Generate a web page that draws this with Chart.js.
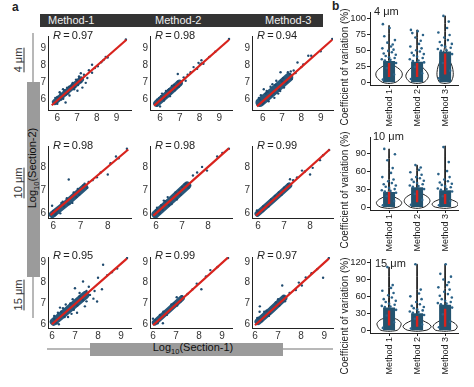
<!DOCTYPE html>
<html lang="en">
<head>
<meta charset="UTF-8">
<meta name="viewport" content="width=device-width, initial-scale=1.0">
<title>Section-1 vs Section-2</title>
<script src="https://cdn.jsdelivr.net/npm/chart.js@4.4.1/dist/chart.umd.min.js"></script>
<style>
  body { margin: 0; background: #fff; font-family: 'Liberation Sans', Arial, sans-serif; color: #222; }
  #fig { position: relative; width: 474px; height: 387px; overflow: hidden; }
  #fig canvas { position: absolute; }
  .t { position: absolute; white-space: nowrap; line-height: 1; }
  .rot { transform: translate(-50%, -50%) rotate(-90deg); }
  .tag { font-weight: bold; font-size: 12px; }
  .strip { position: absolute; background: #333; }
  .head { color: #eee; font-size: 11px; top: 15px; }
  .bar { position: absolute; background: #9b9b9b; }
  .thin { position: absolute; background: #b8b8b8; }
  .rowlab { font-size: 11px; text-decoration: underline; text-underline-offset: 2px; color: #333; }
  .axlab { font-size: 11px; color: #111; }
  .axlab sub { font-size: 7.5px; }
  .rval { font-size: 11px; transform: translateY(-50%); }
  .vtitle { font-size: 11px; transform: translateY(-50%); }
  .cvlab { font-size: 10px; color: #222; }
</style>
</head>
<body>
<div id="fig">
  <div class="t tag" style="left:12px; top:1px">a</div>
  <div class="t tag" style="left:332px; top:0px">b</div>
  <!-- bandeau des méthodes + barres d'axes -->
  <div class="strip" style="left:40px; top:14px; width:283px; height:13px"></div>
  <div class="thin" style="left:32px; top:33px; width:2px; height:49px"></div>
  <div class="bar" style="left:27px; top:82px; width:13px; height:195px"></div>
  <div class="thin" style="left:32px; top:277px; width:2px; height:41px"></div>
  <div class="thin" style="left:47px; top:348px; width:43px; height:2px"></div>
  <div class="bar" style="left:90px; top:343px; width:193px; height:13px"></div>
  <div class="thin" style="left:283px; top:348px; width:50px; height:2px"></div>
  <div class="t axlab rot" style="left:33.5px; top:168px">Log<sub>10</sub>(Section-2)</div>
  <div class="t axlab" style="left:193px; top:349px; transform:translate(-50%,-50%)">Log<sub>10</sub>(Section-1)</div>
</div>

<script>
// ---- data ----
const sizes = ['4 μm', '10 μm', '15 μm'];
const methods = ['Method-1', 'Method-2', 'Method-3'];
const catLabels = ['Method 1', 'Method 2', 'Method 3'];
const rValues = [['0.97', '0.98', '0.94'], ['0.98', '0.98', '0.99'], ['0.95', '0.99', '0.97']];
const scatterTicks = [[6, 7, 8, 9], [6, 7, 8], [6, 7, 8, 9]];
const cvTicks = [[0, 25, 50, 75, 100], [0, 30, 60, 90], [0, 30, 60, 90, 120]];

// 4 µm
const fit4_1 = [[5.72, 5.67], [9.5, 9.5]];
const band4_1 = [[5.88, 5.86], [6.4, 6.38], [7.2, 7.18]];
const pts4_1 = [[7.76, 8.04], [8.22, 8.18], [8.34, 8.32], [8.55, 8.46], [7.6, 7.72], [7.76, 7.57], [7.52, 7.26], [7.1, 7.35],
  [7.27, 6.7], [7.02, 6.52], [6.62, 6.24], [6.29, 6.61], [6.12, 6.43], [6.78, 6.98], [6.95, 7.17], [6.42, 5.83], [6.04, 5.96],
  [6.16, 6.33], [7.44, 6.98], [6.7, 6.8], [7.19, 7.54], [9.47, 9.52], [8.05, 7.95], [7.9, 7.85], [5.9, 6.1], [6.0, 5.75],
  [6.5, 6.7], [6.85, 6.6], [7.35, 7.45], [6.3, 6.05], [8.45, 8.5], [7.05, 6.85],
  [6.0, 6.15], [6.2, 6.0], [6.35, 6.55], [6.55, 6.35], [6.75, 6.9], [6.9, 6.72], [7.1, 7.25], [7.2, 7.02], [5.95, 5.8],
  [6.6, 6.75], [6.45, 6.3], [7.0, 7.1]];
const fit4_2 = [[5.7, 5.65], [9.5, 9.5]];
const band4_2 = [[5.83, 5.78], [6.4, 6.35], [6.98, 6.96]];
const pts4_2 = [[9.5, 9.55], [7.7, 7.9], [8.03, 8.06], [7.88, 7.8], [8.1, 8.12], [8.2, 8.1], [7.95, 8.15], [8.5, 8.5], [8.8, 8.8],
  [7.4, 7.45], [7.2, 7.3], [7.05, 6.9], [6.9, 7.05], [6.0, 5.6], [5.9, 5.85], [6.1, 6.35], [6.3, 6.5], [6.5, 6.2], [6.6, 6.8],
  [6.75, 6.55], [6.2, 5.95], [7.55, 7.6], [5.85, 6.0], [6.45, 6.6], [6.95, 6.75], [7.3, 7.1], [6.9, 7.5], [8.1, 8.3],
  [5.85, 5.65], [6.05, 6.2], [6.2, 6.05], [6.4, 6.55], [6.55, 6.4], [6.7, 6.85], [6.85, 6.7], [5.95, 6.1], [6.3, 6.15], [6.6, 6.5]];
const fit4_3 = [[5.7, 5.6], [9.6, 9.5]];
const band4_3 = [[5.85, 5.83], [6.5, 6.45], [7.35, 7.3]];
const pts4_3 = [[9.6, 9.55], [8.51, 8.56], [8.36, 8.56], [8.1, 8.06], [7.8, 8.17], [6.92, 7.6], [7.0, 7.05], [6.05, 6.6], [9.0, 8.83],
  [5.8, 6.1], [7.6, 7.7], [7.5, 7.2], [7.3, 7.6], [7.1, 6.7], [6.8, 6.35], [6.6, 6.1], [6.3, 5.9], [6.2, 6.5], [6.5, 6.9], [6.7, 7.1],
  [7.2, 7.0], [7.7, 7.55], [8.0, 7.9], [6.0, 5.75], [6.9, 6.5], [5.9, 6.25], [6.4, 6.75], [7.45, 7.65],
  [5.85, 6.0], [6.05, 5.85], [6.25, 6.45], [6.45, 6.25], [6.65, 6.85], [6.85, 6.6], [7.05, 7.25], [7.25, 7.05], [7.4, 7.5],
  [6.15, 6.35], [6.55, 6.4], [6.95, 7.1]];

// 10 µm
const fit10_1 = [[5.9, 5.92], [8.75, 8.75]];
const band10_1 = [[5.97, 5.95], [6.5, 6.45], [7.15, 7.13]];
const pts10_1 = [[6.57, 7.46], [8.7, 8.78], [8.3, 8.45], [8.4, 8.37], [8.1, 8.16], [7.74, 7.76], [8.0, 7.67], [7.44, 7.43],
  [7.6, 7.55], [5.96, 6.33], [6.07, 5.92], [6.26, 6.0], [6.7, 6.45], [7.3, 7.35], [7.1, 7.2], [6.85, 6.7], [6.5, 6.65],
  [6.3, 6.45], [6.9, 7.05], [7.25, 7.1], [6.15, 6.1], [6.6, 6.4],
  [6.0, 6.1], [6.1, 5.98], [6.35, 6.5], [6.55, 6.4], [6.75, 6.9], [6.95, 6.8], [7.15, 7.28], [6.4, 6.3]];
const fit10_2 = [[5.9, 5.9], [8.8, 8.8]];
const band10_2 = [[5.98, 5.96], [6.6, 6.58], [7.2, 7.2]];
const pts10_2 = [[8.8, 8.78], [8.35, 8.45], [7.77, 8.0], [7.96, 7.84], [7.42, 7.63], [7.58, 7.76], [7.0, 7.14], [6.04, 6.24],
  [6.15, 6.04], [8.55, 8.6], [7.3, 7.2], [6.3, 6.55], [6.6, 6.4], [6.45, 6.7], [6.8, 6.6], [7.15, 7.3], [6.9, 7.0], [6.2, 6.35],
  [6.0, 6.12], [6.12, 5.98], [6.35, 6.52], [6.5, 6.35], [6.75, 6.9], [6.95, 6.8], [7.1, 7.25], [7.25, 7.1], [6.25, 6.15]];
const fit10_3 = [[5.92, 5.9], [8.75, 8.75]];
const band10_3 = [[5.98, 5.98], [6.6, 6.6], [7.2, 7.2]];
const pts10_3 = [[8.73, 8.73], [8.38, 8.29], [8.0, 7.67], [7.69, 7.84], [8.1, 7.96], [7.35, 7.43], [7.23, 7.47], [5.96, 6.12],
  [8.5, 8.5], [7.5, 7.55], [7.0, 7.1], [6.2, 6.1], [6.5, 6.6], [6.8, 6.9], [7.8, 7.8],
  [6.0, 6.05], [6.2, 6.3], [6.4, 6.3], [6.65, 6.75], [6.9, 6.8], [7.15, 7.25]];

// 15 µm
const fit15_1 = [[6.0, 6.0], [9.25, 9.15]];
const band15_1 = [[6.08, 6.12], [6.6, 6.6], [7.45, 7.4]];
const pts15_1 = [[8.22, 8.86], [9.26, 9.18], [7.0, 7.73], [7.35, 8.05], [8.0, 8.23], [8.4, 8.36], [8.83, 8.68], [7.65, 7.41],
  [7.8, 7.23], [7.96, 7.09], [6.48, 6.77], [6.26, 6.55], [7.09, 6.55], [7.43, 6.86], [8.17, 7.68], [6.1, 6.4], [6.3, 6.0],
  [6.7, 6.35], [7.2, 7.5], [7.6, 7.8], [7.5, 7.1], [6.9, 7.2], [6.6, 6.95], [8.6, 8.5], [7.85, 7.6],
  [6.1, 6.25], [6.2, 6.05], [6.4, 6.6], [6.55, 6.35], [6.8, 7.0], [6.95, 6.7], [7.2, 7.35], [7.35, 7.15], [7.5, 7.6],
  [7.1, 6.9], [6.35, 6.8], [6.85, 6.5]];
const fit15_2 = [[6.0, 5.95], [9.25, 9.2]];
const band15_2 = [[6.08, 6.08], [6.7, 6.7], [7.25, 7.25]];
const pts15_2 = [[9.26, 9.18], [8.49, 8.6], [7.72, 7.68], [8.1, 7.68], [7.03, 7.3], [6.0, 6.27], [6.43, 6.05], [8.3, 8.3],
  [7.9, 7.95], [7.5, 7.45], [7.2, 7.1], [6.8, 6.95], [6.3, 6.45], [8.8, 8.75],
  [6.1, 6.2], [6.2, 6.05], [6.45, 6.6], [6.6, 6.45], [6.9, 7.0], [7.05, 6.9], [7.25, 7.35]];
const fit15_3 = [[6.0, 5.95], [9.2, 9.15]];
const band15_3 = [[6.13, 6.13], [6.7, 6.68], [7.25, 7.25]];
const pts15_3 = [[9.2, 9.18], [8.95, 8.23], [7.18, 7.86], [6.21, 6.86], [8.45, 8.45], [8.03, 7.86], [7.77, 7.64], [8.2, 8.25],
  [7.5, 7.5], [7.3, 7.1], [7.0, 7.2], [6.6, 6.4], [6.4, 6.6], [6.1, 6.3], [8.7, 8.65], [7.9, 8.0],
  [6.15, 6.3], [6.3, 6.15], [6.5, 6.65], [6.65, 6.5], [6.9, 7.05], [7.05, 6.9], [7.25, 7.35], [6.2, 6.6]];

// coefficient of variation (%) : dense core top, scattered points, red centre, violin [cv, half width]
const core4 = [33, 32, 48];
const cv4_1 = [4, 12, 22, 30, 34, 35, 36, 38, 39, 41, 43, 45, 47, 49, 51, 53, 56, 59, 62, 66, 72, 85, 91];
const cv4_2 = [5, 14, 24, 31, 33, 34, 36, 38, 40, 42, 44, 46, 48, 50, 53, 56, 60, 65, 70, 74, 77, 80, 82];
const cv4_3 = [6, 18, 30, 44, 49, 50, 52, 54, 56, 58, 60, 63, 66, 70, 74, 78, 85, 95, 104];
const red4 = [[8, 30], [8, 30], [12, 45]];
const vio4_1 = [[-2, 0.05], [0, 0.25], [8, 0.45], [14, 0.47], [20, 0.38], [25, 0.22], [29, 0.08], [34, 0.02], [89, 0.01]];
const vio4_2 = [[-2, 0.05], [0, 0.25], [6, 0.38], [11, 0.4], [17, 0.33], [23, 0.2], [28, 0.08], [32, 0.02], [82, 0.01]];
const vio4_3 = [[-2, 0.05], [0, 0.2], [8, 0.28], [15, 0.29], [25, 0.25], [35, 0.15], [45, 0.07], [55, 0.02], [104, 0.01]];

const core10 = [25, 33, 28];
const cv10_1 = [3, 10, 18, 24, 26, 27, 28, 30, 32, 34, 36, 38, 40, 43, 46, 50, 57, 65, 78, 88, 97];
const cv10_2 = [4, 12, 22, 30, 34, 35, 36, 38, 40, 42, 44, 46, 48, 50, 54, 58, 62, 66, 70];
const cv10_3 = [3, 10, 18, 26, 29, 30, 31, 33, 35, 37, 39, 41, 43, 46, 50, 55, 60, 75, 100];
const red10 = [[5, 25], [8, 28], [5, 22]];
const vio10_1 = [[-2, 0.05], [0, 0.3], [4, 0.43], [8, 0.45], [13, 0.35], [18, 0.15], [23, 0.05], [30, 0.02], [97, 0.01]];
const vio10_2 = [[-2, 0.05], [0, 0.25], [6, 0.42], [11, 0.46], [17, 0.38], [22, 0.2], [27, 0.06], [33, 0.02], [70, 0.01]];
const vio10_3 = [[-2, 0.05], [0, 0.35], [3, 0.45], [6, 0.46], [10, 0.35], [14, 0.15], [19, 0.05], [25, 0.02], [102, 0.01]];

const core15 = [40, 30, 45];
const cv15_1 = [4, 14, 26, 36, 41, 42, 43, 45, 47, 50, 52, 55, 58, 62, 66, 70, 75, 80, 112];
const cv15_2 = [3, 10, 20, 27, 31, 32, 33, 35, 37, 39, 41, 43, 46, 50, 55, 60, 65, 72, 117];
const cv15_3 = [5, 15, 28, 40, 46, 47, 48, 50, 52, 55, 58, 61, 64, 68, 72, 76, 80, 85, 90, 95, 100, 117];
const red15 = [[8, 35], [6, 25], [6, 38]];
const vio15_1 = [[-2, 0.05], [0, 0.3], [6, 0.4], [12, 0.43], [18, 0.32], [23, 0.12], [30, 0.04], [40, 0.02], [112, 0.01]];
const vio15_2 = [[-2, 0.05], [0, 0.35], [4, 0.48], [7, 0.5], [12, 0.4], [17, 0.2], [22, 0.06], [28, 0.02], [117, 0.01]];
const vio15_3 = [[-2, 0.05], [0, 0.35], [4, 0.42], [7, 0.43], [12, 0.35], [17, 0.18], [22, 0.06], [30, 0.02], [117, 0.01]];

// strip jitter (category units)
const jitter = [-0.22, 0.18, -0.08, 0.25, -0.15, 0.05, -0.26, 0.2, 0.0, -0.12, 0.24, -0.19, 0.1, -0.03, 0.16, -0.24, 0.07, 0.13, -0.06, 0.21, -0.17, 0.02];

// ---- layout ----
const colL = [48, 150, 252], colR = [132, 233, 334];
const rowT = [32, 142, 253], rowB = [110, 218, 328];
const rowMid = [35, 145, 254.5];
const xRange = [[[5.53, 9.73], [5.49, 9.65], [5.44, 9.64]],
                [[5.81, 8.85], [5.77, 8.92], [5.77, 8.88]],
                [[5.83, 9.43], [5.87, 9.43], [5.87, 9.38]]];
const yRange = [[5.39, 9.72], [5.8, 8.9], [5.82, 9.23]];
const bandPx = [[6, 7, 9], [7, 8, 6], [8, 6, 7]];
const vioT = [10, 135, 257], vioB = [85, 210, 333];
const vioY = [[-4.5, 109], [-4.8, 115.7], [-5.1, 125.1]];
const vioTitle = [[374, 11], [373, 136], [375, 263]];
const vioAxisMid = [67, 190, 316];

const RED = '#d8231d', BLUE = '#1f4a6e', BAND = '#27587b', CORE = '#24536f', PT = '#2b6288';

const panels = [
  [[fit4_1, band4_1, pts4_1], [fit4_2, band4_2, pts4_2], [fit4_3, band4_3, pts4_3]],
  [[fit10_1, band10_1, pts10_1], [fit10_2, band10_2, pts10_2], [fit10_3, band10_3, pts10_3]],
  [[fit15_1, band15_1, pts15_1], [fit15_2, band15_2, pts15_2], [fit15_3, band15_3, pts15_3]]
];
const violins = [
  { core: core4, cv: [cv4_1, cv4_2, cv4_3], red: red4, shape: [vio4_1, vio4_2, vio4_3] },
  { core: core10, cv: [cv10_1, cv10_2, cv10_3], red: red10, shape: [vio10_1, vio10_2, vio10_3] },
  { core: core15, cv: [cv15_1, cv15_2, cv15_3], red: red15, shape: [vio15_1, vio15_2, vio15_3] }
];

Chart.defaults.font.family = "'Liberation Sans', Arial, sans-serif";
Chart.defaults.color = '#333';

const fig = document.getElementById('fig');

function addCanvas(left, top, w, h) {
  const c = document.createElement('canvas');
  c.width = w; c.height = h;
  c.style.left = left + 'px'; c.style.top = top + 'px';
  c.style.width = w + 'px'; c.style.height = h + 'px';
  fig.appendChild(c);
  return c;
}
function addText(html, cls, style) {
  const d = document.createElement('div');
  d.className = 't ' + cls;
  d.style.cssText = style;
  d.innerHTML = html;
  fig.appendChild(d);
}
const xy = a => a.map(([x, y]) => ({ x, y }));
const fixed = vals => s => { s.ticks = vals.map(v => ({ value: v })); };

function axis(range, ticks, extra) {
  return Object.assign({
    type: 'linear', min: range[0], max: range[1],
    grid: { display: true, drawOnChartArea: false, drawTicks: false },
    border: { display: true, color: '#222', width: 1 },
    ticks: { font: { size: 10 }, color: '#333', padding: 2 },
    afterBuildTicks: fixed(ticks)
  }, extra || {});
}

// ---- scatter panels ----
function scatterPanel(row, col) {
  const l = colL[col], r = colR[col], t = rowT[row], b = rowB[row];
  const [fit, band, pts] = panels[row][col];
  const cv = addCanvas(l - 14, t - 4, r - l + 17, b - t + 18);
  new Chart(cv, {
    type: 'scatter',
    data: {
      datasets: [
        { type: 'line', showLine: true, data: xy(fit), borderColor: RED, borderWidth: 2.2, pointRadius: 0, order: 0 },
        { data: xy(pts), backgroundColor: BLUE, borderWidth: 0, pointRadius: 1.2, order: 1 },
        { type: 'line', showLine: true, data: xy(band), borderColor: BAND, borderWidth: bandPx[row][col],
          borderCapStyle: 'round', pointRadius: 0, order: 2 }
      ]
    },
    options: {
      responsive: false, animation: false, devicePixelRatio: 1,
      layout: { padding: { top: 4, right: 3 } },
      plugins: { legend: { display: false }, tooltip: { enabled: false } },
      scales: {
        x: axis(xRange[row][col], scatterTicks[row], { afterFit: s => { s.height = 14; } }),
        y: axis(yRange[row], scatterTicks[row], { afterFit: s => { s.width = 14; } })
      }
    }
  });
  addText('<i>R</i>&thinsp;=&thinsp;' + rValues[row][col], 'rval', `left:${l + 5}px; top:${rowMid[row]}px`);
}

// ---- violin panels ----
function outline(c, shape) {
  const right = shape.map(([y, w]) => ({ x: c + w, y }));
  const left = shape.slice().reverse().map(([y, w]) => ({ x: c - w, y }));
  return right.concat(left, [right[0]]);
}

function violinPanel(k) {
  const l = 370, r = 458, t = vioT[k], b = vioB[k];
  const v = violins[k];
  const ds = [];
  v.shape.forEach((sh, i) => ds.push({ type: 'line', showLine: true, data: outline(i + 1, sh), borderColor: '#222',
    borderWidth: 1, tension: 0.3, pointRadius: 0, order: 3 }));
  v.core.forEach((top, i) => ds.push({ type: 'line', showLine: true, data: [{ x: i + 1, y: 0 }, { x: i + 1, y: top }],
    borderColor: CORE, borderWidth: 12, borderCapStyle: 'butt', pointRadius: 0, order: 2 }));
  const pts = [];
  v.cv.forEach((arr, i) => arr.forEach((y, j) => pts.push({ x: i + 1 + jitter[j % jitter.length], y })));
  ds.push({ data: pts, backgroundColor: PT, borderWidth: 0, pointRadius: 1.3, order: 1 });
  v.red.forEach(([lo, hi], i) => ds.push({ type: 'line', showLine: true, data: [{ x: i + 1, y: lo }, { x: i + 1, y: hi }],
    borderColor: RED, borderWidth: 2.4, pointRadius: 0, order: 0 }));

  const cv = addCanvas(l - 22, t - 4, r - l + 26, b - t + 48);
  const tickGrid = { display: true, drawOnChartArea: false, drawTicks: true, tickLength: 3, color: '#222' };
  new Chart(cv, {
    type: 'scatter',
    data: { datasets: ds },
    options: {
      responsive: false, animation: false, devicePixelRatio: 1,
      layout: { padding: { top: 4, right: 4 } },
      plugins: { legend: { display: false }, tooltip: { enabled: false } },
      scales: {
        x: axis([0.32, 3.46], [1, 2, 3], {
          grid: tickGrid,
          ticks: { font: { size: 9 }, color: '#222', padding: 1, minRotation: 90, maxRotation: 90, autoSkip: false,
            callback: val => catLabels[val - 1] },
          afterFit: s => { s.height = 44; }
        }),
        y: axis(vioY[k], cvTicks[k], {
          grid: tickGrid,
          ticks: { font: { size: 9.5 }, color: '#222', padding: 1 },
          afterFit: s => { s.width = 22; }
        })
      }
    }
  });
  addText(sizes[k], 'vtitle', `left:${vioTitle[k][0]}px; top:${vioTitle[k][1]}px`);
  addText('Coefficient of variation (%)', 'cvlab rot', `left:345px; top:${vioAxisMid[k]}px`);
}

// ---- labels ----
const headX = [48, 155, 265];
methods.forEach((m, i) => addText(m, 'head', `left:${headX[i]}px`));
const rowLabY = [60, 183, 295];
sizes.forEach((s, i) => addText(s, 'rowlab rot', `left:18px; top:${rowLabY[i]}px`));

for (let row = 0; row < 3; row++) for (let col = 0; col < 3; col++) scatterPanel(row, col);
for (let k = 0; k < 3; k++) violinPanel(k);
</script>
</body>
</html>
